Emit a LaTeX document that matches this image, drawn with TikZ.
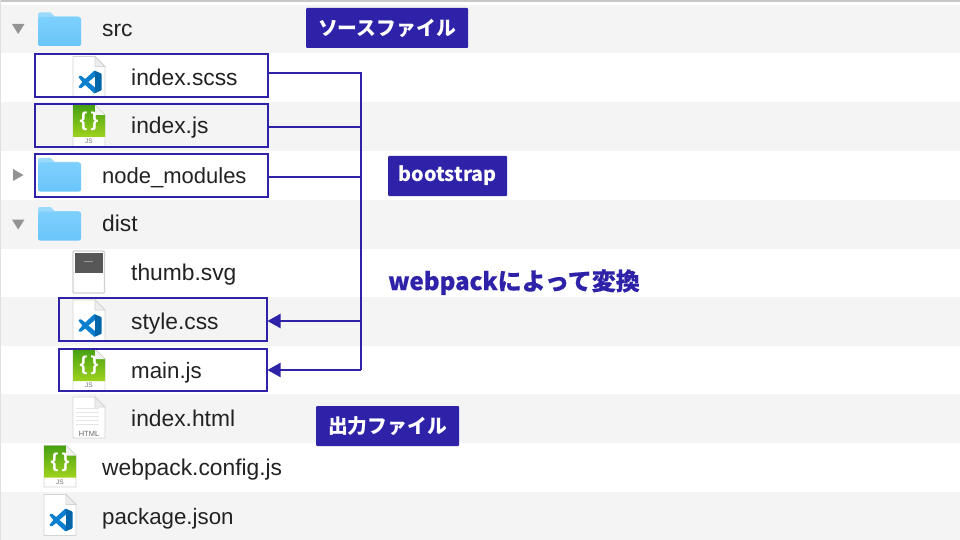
\documentclass[tikz,border=0pt]{standalone}
\usepackage{fontspec}
\setmainfont{Liberation Sans}
\newfontfamily\cjk{Noto Sans CJK JP}
\newfontfamily\cjkheavy[BoldFeatures={FakeBold=0.5}]{Noto Sans CJK JP}
\usetikzlibrary{arrows.meta}
\definecolor{ink}{HTML}{2E22A8}
\definecolor{rowgray}{HTML}{F4F4F4}
\definecolor{txt}{HTML}{222222}
\definecolor{folderA}{HTML}{7DD0FD}
\definecolor{folderB}{HTML}{6AC5F9}
\definecolor{folderTab}{HTML}{9ADAFC}
\definecolor{vsA}{HTML}{0A7FD0}
\definecolor{vsB}{HTML}{0065A9}
\definecolor{jsA}{HTML}{45A012}
\definecolor{jsB}{HTML}{9FD21E}
\tikzset{
  x=1pt,y=-1pt,
  row/.style={fill=rowgray,draw=none},
  filename/.style={anchor=base west,inner sep=0pt,text=txt,font=\fontsize{22.8}{26}\selectfont},
  filebox/.style={draw=ink,line width=2pt,fill=none,inner sep=0pt,minimum width=#1,minimum height=42.5pt},
  tagbox/.style={fill=ink,rounded corners=1pt,text=white,inner sep=0pt,minimum height=40pt,font=\cjk\bfseries\fontsize{19.8}{24}\selectfont},
  wire/.style={draw=ink,line width=2pt},
  arrowwire/.style={wire,-{Triangle[length=13pt,width=14pt]}},
  twist/.style={fill=gray!85!white,draw=none},
  docedge/.style={draw=black!17,line width=0.9pt},
  folder/.pic={
    \fill[folderTab] (-21.5,-12) -- (-21.5,-15) .. controls (-21.5,-16.5) and (-21,-17) .. (-19,-17) -- (-9,-17) -- (-5,-13) -- (19,-13) -- (19,-10) -- cycle;
    \shade[top color=folderA,bottom color=folderB,rounded corners=2pt] (-21.5,-12.5) rectangle (21.5,16.5);
  },
  vslogo/.pic={
    \begin{scope}[shift={(-11.5,-11)},scale=0.23]
      \fill[vsA] (71,1) -- (66,3) -- (29,37) -- (11,23) -- (5,23) -- (0,29) -- (17,50) -- (0,71) -- (5,77) -- (11,77) -- (29,63) -- (66,97) -- (71,99) -- cycle;
      \fill[vsB] (71,1) -- (96,12) -- (100,16) -- (100,84) -- (96,88) -- (71,99) -- cycle;
      \fill[white] (71.5,27) -- (44,50) -- (71.5,73) -- cycle;
    \end{scope}
  },
  vsdoc/.pic={
    \filldraw[docedge,fill=white] (-16,-21) -- (6,-21) -- (16,-11) -- (16,20) -- (-16,20) -- cycle;
    \filldraw[docedge,fill=black!7] (6,-21) -- (6,-11) -- (16,-11) -- cycle;
    \pic at (1,4) {vslogo};
  },
  jsdoc/.pic={
    \filldraw[docedge,fill=white] (-16,-21) -- (6,-21) -- (16,-11) -- (16,20.5) -- (-16,20.5) -- cycle;
    \shade[top color=jsA,bottom color=jsB] (-16,-21) -- (6,-21) -- (16,-11) -- (16,11) -- (-16,11) -- cycle;
    \fill[black!5] (6,-21) -- (6,-11) -- (16,-11) -- cycle;
    \node[text=white,font=\bfseries\fontsize{20}{20}\selectfont,inner sep=0pt] at (0,-4.5) {\{\,\}};
    \node[text=black!55,font=\fontsize{6.5}{7}\selectfont,inner sep=0pt] at (0,15.7) {JS};
  },
  thumbdoc/.pic={
    \filldraw[draw=black!18,line width=1.2pt,fill=white,rounded corners=1pt] (-16,-21) rectangle (15.5,21);
    \fill[black!66] (-14,-19) rectangle (13.5,1);
    \draw[white!60!black,line width=0.4pt] (-5,-11) -- (4,-11);
  },
  htmldoc/.pic={
    \filldraw[docedge,fill=white] (-16,-21) -- (6,-21) -- (16,-11) -- (16,20) -- (-16,20) -- cycle;
    \filldraw[docedge,fill=black!7] (6,-21) -- (6,-11) -- (16,-11) -- cycle;
    \foreach \yy in {-10,-6,-2,2,6}{\draw[black!10,line width=0.6pt] (-13,\yy) -- (10,\yy);}
    \node[text=black!60,font=\fontsize{7.5}{8}\selectfont,inner sep=0pt] at (0,15.5) {HTML};
  },
}
\begin{document}
\begin{tikzpicture}
\useasboundingbox (0,0) rectangle (960,540);
\fill[white] (0,0) rectangle (960,540);
% rows
\fill[row] (0,5) rectangle (960,53);
\fill[row] (0,102) rectangle (960,151);
\fill[row] (0,200) rectangle (960,249);
\fill[row] (0,297) rectangle (960,346);
\fill[row] (0,394) rectangle (960,443);
\fill[row] (0,492) rectangle (960,540);
\fill[black!22] (0,0) rectangle (960,2);
\fill[black!12] (0,0) rectangle (1,540);
% disclosure triangles
\fill[twist] (12,24) -- (24.5,24) -- (18.2,34) -- cycle;
\fill[twist] (13,169) -- (23.5,175) -- (13,181) -- cycle;
\fill[twist] (12,219.5) -- (24.5,219.5) -- (18.2,229.5) -- cycle;
% icons
\pic at (59.5,29.5) {folder};
\pic at (89,77.5) {vsdoc};
\pic at (89,126) {jsdoc};
\pic at (59.5,175) {folder};
\pic at (59.5,224) {folder};
\pic at (89,272) {thumbdoc};
\pic at (89,321) {vsdoc};
\pic at (89,370) {jsdoc};
\pic at (89,418) {htmldoc};
\pic at (60,466.5) {jsdoc};
\pic at (60,515.5) {vsdoc};
% file names
\node[filename] (tsrc) at (102,37) {src};
\node[filename] (tscss) at (131,85.5) {index.scss};
\node[filename] (tjs) at (131,134) {index.js};
\node[filename,font=\fontsize{22}{26}\selectfont] (tnode) at (102,183) {node\_modules};
\node[filename] (tdist) at (102,231.5) {dist};
\node[filename] (tthumb) at (131,280.5) {thumb.svg};
\node[filename] (tstyle) at (131,329) {style.css};
\node[filename,font=\fontsize{22.3}{26}\selectfont] (tmain) at (131,378) {main.js};
\node[filename] (thtml) at (131,426.5) {index.html};
\node[filename] (twebpack) at (102,475) {webpack.config.js};
\node[filename,font=\fontsize{22.3}{26}\selectfont] (tpackage) at (102,524) {package.json};
% boxes
\node[filebox=233pt] (bscss) at (151,75.5) {};
\node[filebox=233pt] (bjs) at (151,125.5) {};
\node[filebox=233pt] (bnode) at (151,175.7) {};
\node[filebox=208pt] (bstyle) at (162.5,319.7) {};
\node[filebox=208pt] (bmain) at (162.5,370) {};
% connectors
\coordinate (jtop) at (361,73);
\coordinate (jjs) at (361,127);
\coordinate (jnode) at (361,177);
\coordinate (jstyle) at (361,321);
\coordinate (jbot) at (361,370);
\draw[wire,line join=miter] ([yshift=2.5pt]bscss.east) -- (jtop) -- (jbot);
\draw[wire] ([yshift=-1.5pt]bjs.east) -- (jjs);
\draw[wire] ([yshift=-1.3pt]bnode.east) -- (jnode);
\draw[arrowwire] (jstyle) -- ([yshift=-1.3pt]bstyle.east);
\draw[arrowwire] (jbot) -- (bmain.east);
% tags
\node[tagbox,minimum width=162pt] (tagsrc) at (387,28) {\raisebox{-0.5pt}{ソースファイル}};
\node[tagbox,minimum width=119pt] (tagboot) at (447.5,176) {\raisebox{-2pt}{bootstrap}};
\node[tagbox,minimum width=143pt] (tagout) at (387.5,426) {\raisebox{-0.5pt}{出力ファイル}};
\node[anchor=base west,inner sep=0pt,text=ink,font=\cjkheavy\bfseries\fontsize{24}{28}\selectfont] (conv) at (388,290) {webpackによって変換};
\end{tikzpicture}
\end{document}
